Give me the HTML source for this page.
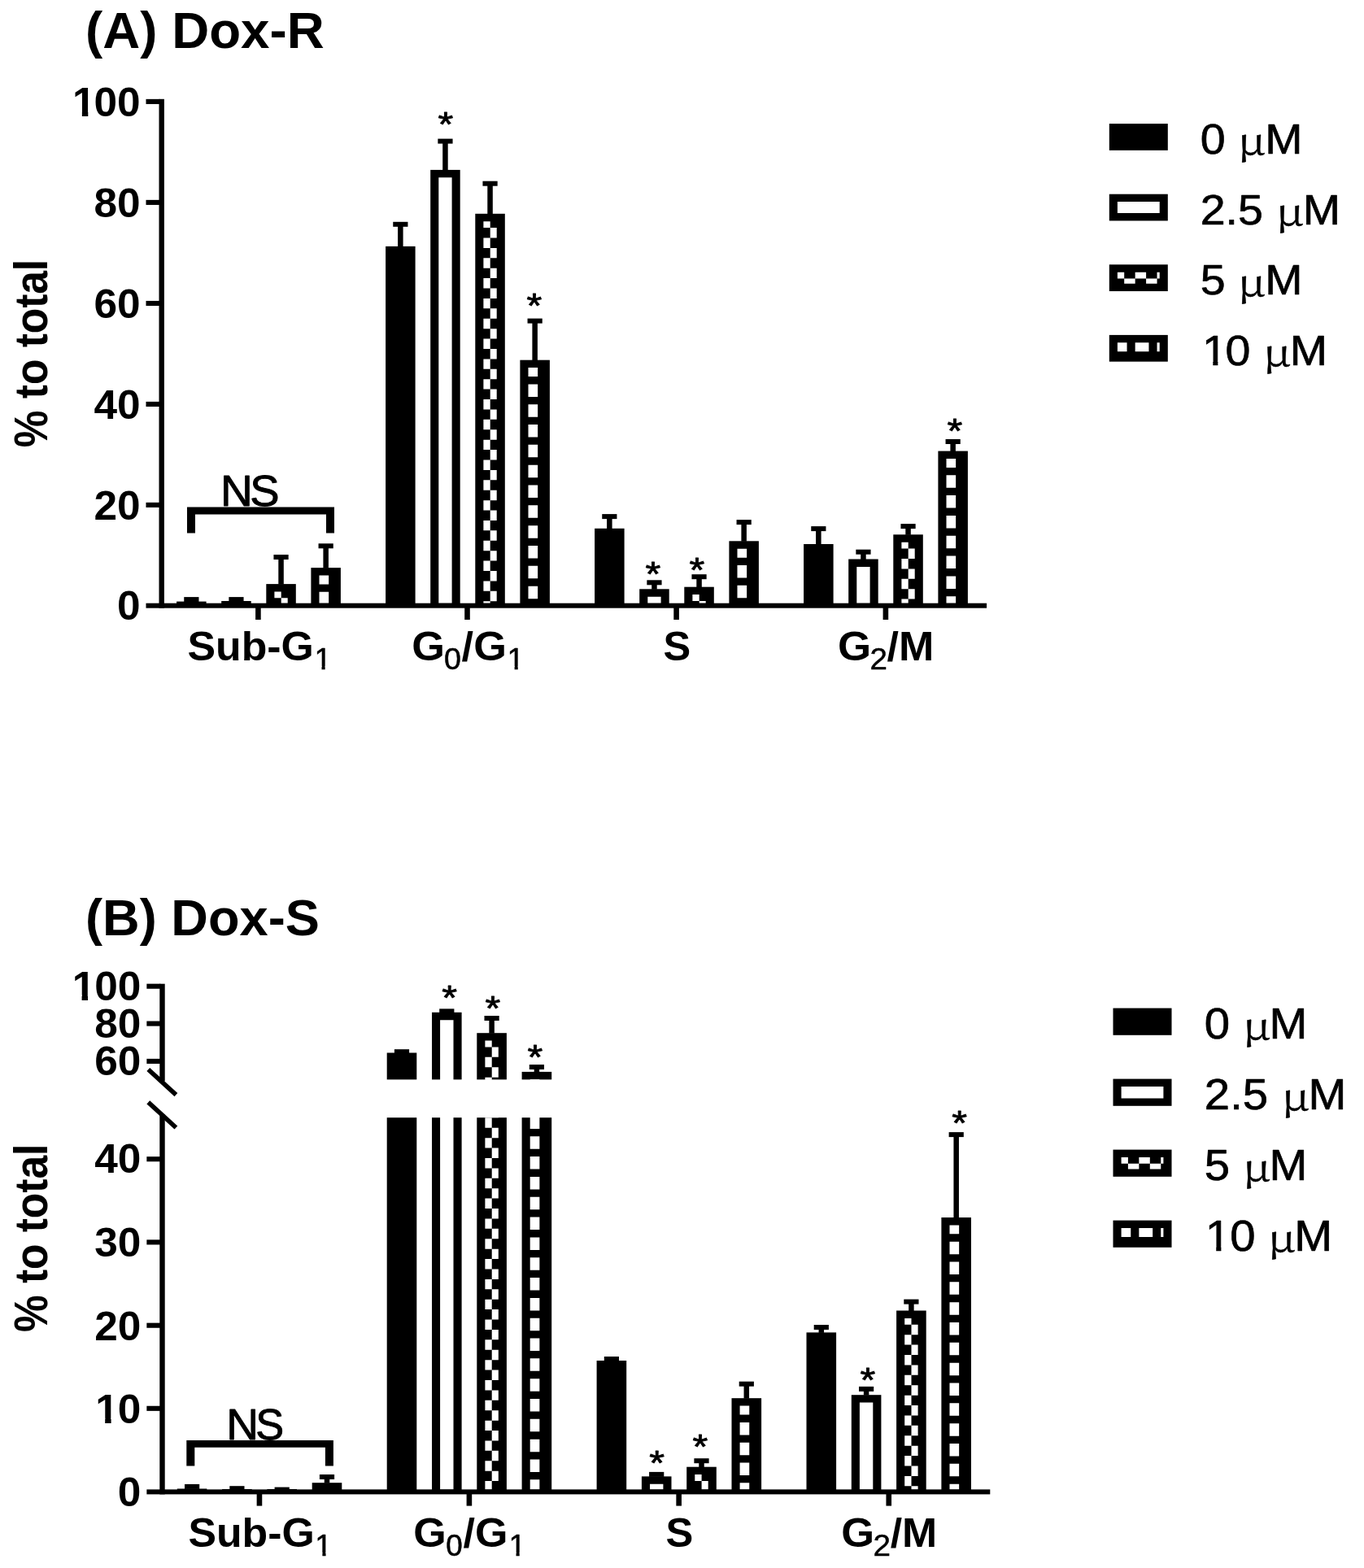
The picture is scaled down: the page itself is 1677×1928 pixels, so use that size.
<!DOCTYPE html>
<html lang="en"><head><meta charset="utf-8"><title>Cell cycle distribution: Dox-R and Dox-S</title>
<style>html,body{margin:0;padding:0;background:#fff}body{width:1677px;height:1928px;overflow:hidden}svg{display:block}text{font-family:"Liberation Sans",sans-serif;fill:#000;font-kerning:none;stroke-linejoin:round}.b{font-weight:700}.r{font-weight:400}.mu{font-family:"Noto Serif CJK SC","Liberation Serif",serif;font-weight:400}</style></head><body>
<svg width="1677" height="1928" viewBox="0 0 1677 1928">
<defs>
<clipPath id="one700"><path d="M-5 -90H70V-12.71H37.41V8H22.99V-12.71H-5Z"/></clipPath>
<clipPath id="one400"><path d="M-5 -90H70V-9.97H34.98V8H24.15V-9.97H-5Z"/></clipPath>
</defs>
<rect width="1677" height="1928" fill="#fff"/>
<g id="panel-A" fill="#000">
<g class="bars">
<rect x="217.1" y="739.6" width="36.5" height="5.1"/>
<rect x="226.25" y="734.1" width="18.2" height="6"/>
<rect x="272.2" y="739" width="36.5" height="5.7"/>
<rect x="281.35" y="734.1" width="18.2" height="6"/>
<rect x="327.3" y="718.1" width="36.5" height="26.6"/>
<rect x="336.45" y="682" width="18.2" height="6"/>
<rect x="342.3" y="687" width="6.5" height="31.6"/>
<rect x="382.4" y="698.1" width="36.5" height="46.6"/>
<rect x="391.55" y="668.3" width="18.2" height="6"/>
<rect x="397.4" y="673.3" width="6.5" height="25.3"/>
<rect x="474.1" y="302.9" width="36.5" height="441.8"/>
<rect x="483.25" y="272.8" width="18.2" height="6"/>
<rect x="489.1" y="277.8" width="6.5" height="25.6"/>
<rect x="529.2" y="208.9" width="36.5" height="535.8"/>
<rect x="538.35" y="170.6" width="18.2" height="6"/>
<rect x="544.2" y="175.6" width="6.5" height="33.8"/>
<rect x="584.3" y="262.8" width="36.5" height="481.9"/>
<rect x="593.45" y="222.7" width="18.2" height="6"/>
<rect x="599.3" y="227.7" width="6.5" height="35.6"/>
<rect x="639.4" y="442.7" width="36.5" height="302"/>
<rect x="648.55" y="391.6" width="18.2" height="6"/>
<rect x="654.4" y="396.6" width="6.5" height="46.6"/>
<rect x="731.1" y="649.8" width="36.5" height="94.9"/>
<rect x="740.25" y="632.1" width="18.2" height="6"/>
<rect x="746.1" y="637.1" width="6.5" height="13.2"/>
<rect x="786.2" y="724.3" width="36.5" height="20.4"/>
<rect x="795.35" y="713.3" width="18.2" height="6"/>
<rect x="801.2" y="718.3" width="6.5" height="6.5"/>
<rect x="841.3" y="721.7" width="36.5" height="23"/>
<rect x="850.45" y="706.2" width="18.2" height="6"/>
<rect x="856.3" y="711.2" width="6.5" height="11"/>
<rect x="896.4" y="665.3" width="36.5" height="79.4"/>
<rect x="905.55" y="639.1" width="18.2" height="6"/>
<rect x="911.4" y="644.1" width="6.5" height="21.7"/>
<rect x="988.1" y="669" width="36.5" height="75.7"/>
<rect x="997.25" y="647.1" width="18.2" height="6"/>
<rect x="1003.1" y="652.1" width="6.5" height="17.4"/>
<rect x="1043.2" y="687.5" width="36.5" height="57.2"/>
<rect x="1052.35" y="675.7" width="18.2" height="6"/>
<rect x="1058.2" y="680.7" width="6.5" height="7.3"/>
<rect x="1098.3" y="657.3" width="36.5" height="87.4"/>
<rect x="1107.45" y="644.1" width="18.2" height="6"/>
<rect x="1113.3" y="649.1" width="6.5" height="8.7"/>
<rect x="1153.4" y="554.6" width="36.5" height="190.1"/>
<rect x="1162.55" y="540" width="18.2" height="6"/>
<rect x="1168.4" y="545" width="6.5" height="10.1"/>
<path fill="#fff" d="M337.4 727.5H345.7V735.36H337.4ZM345.7 735.36H353.7V741.7H345.7ZM392.5 707.5H404.15V718.45H392.5ZM392.5 727.78H404.15V741.7H392.5ZM539.3 218.3H555.6V741.7H539.3ZM594.4 272.2H602.7V280.06H594.4ZM602.7 280.06H610.7V292.47H602.7ZM594.4 292.47H602.7V304.88H594.4ZM602.7 304.88H610.7V317.29H602.7ZM594.4 317.29H602.7V329.7H594.4ZM602.7 329.7H610.7V342.11H602.7ZM594.4 342.11H602.7V354.52H594.4ZM602.7 354.52H610.7V366.93H602.7ZM594.4 366.93H602.7V379.34H594.4ZM602.7 379.34H610.7V391.75H602.7ZM594.4 391.75H602.7V404.16H594.4ZM602.7 404.16H610.7V416.57H602.7ZM594.4 416.57H602.7V428.98H594.4ZM602.7 428.98H610.7V441.39H602.7ZM594.4 441.39H602.7V453.8H594.4ZM602.7 453.8H610.7V466.21H602.7ZM594.4 466.21H602.7V478.62H594.4ZM602.7 478.62H610.7V491.03H602.7ZM594.4 491.03H602.7V503.44H594.4ZM602.7 503.44H610.7V515.85H602.7ZM594.4 515.85H602.7V528.26H594.4ZM602.7 528.26H610.7V540.67H602.7ZM594.4 540.67H602.7V553.08H594.4ZM602.7 553.08H610.7V565.49H602.7ZM594.4 565.49H602.7V577.9H594.4ZM602.7 577.9H610.7V590.31H602.7ZM594.4 590.31H602.7V602.72H594.4ZM602.7 602.72H610.7V615.13H602.7ZM594.4 615.13H602.7V627.54H594.4ZM602.7 627.54H610.7V639.95H602.7ZM594.4 639.95H602.7V652.36H594.4ZM602.7 652.36H610.7V664.77H602.7ZM594.4 664.77H602.7V677.18H594.4ZM602.7 677.18H610.7V689.59H602.7ZM594.4 689.59H602.7V702H594.4ZM602.7 702H610.7V714.41H602.7ZM594.4 714.41H602.7V726.82H594.4ZM602.7 726.82H610.7V739.23H602.7ZM594.4 739.23H602.7V741.7H594.4ZM649.5 452.1H661.15V463.05H649.5ZM649.5 472.38H661.15V487.88H649.5ZM649.5 497.21H661.15V512.71H649.5ZM649.5 522.04H661.15V537.54H649.5ZM649.5 546.87H661.15V562.37H649.5ZM649.5 571.7H661.15V587.2H649.5ZM649.5 596.53H661.15V612.03H649.5ZM649.5 621.36H661.15V636.86H649.5ZM649.5 646.19H661.15V661.69H649.5ZM649.5 671.02H661.15V686.52H649.5ZM649.5 695.85H661.15V711.35H649.5ZM649.5 720.68H661.15V736.18H649.5ZM796.3 733.7H812.6V741.7H796.3ZM851.4 731.1H859.7V738.96H851.4ZM859.7 738.96H867.7V741.7H859.7ZM906.5 674.7H918.15V685.65H906.5ZM906.5 694.98H918.15V710.48H906.5ZM906.5 719.81H918.15V735.31H906.5ZM1053.3 696.9H1069.6V741.7H1053.3ZM1108.4 666.7H1116.7V674.56H1108.4ZM1116.7 674.56H1124.7V686.97H1116.7ZM1108.4 686.97H1116.7V699.38H1108.4ZM1116.7 699.38H1124.7V711.79H1116.7ZM1108.4 711.79H1116.7V724.2H1108.4ZM1116.7 724.2H1124.7V736.61H1116.7ZM1108.4 736.61H1116.7V741.7H1108.4ZM1163.5 564H1175.15V574.95H1163.5ZM1163.5 584.28H1175.15V599.78H1163.5ZM1163.5 609.11H1175.15V624.61H1163.5ZM1163.5 633.94H1175.15V649.44H1163.5ZM1163.5 658.77H1175.15V674.27H1163.5ZM1163.5 683.6H1175.15V699.1H1163.5ZM1163.5 708.43H1175.15V723.93H1163.5ZM1163.5 733.26H1175.15V741.7H1163.5Z"/>
</g>
<g class="axes">
<rect x="179.5" y="741.7" width="1033.6" height="6"/>
<rect x="195.5" y="121.8" width="6.4" height="625.9"/>
<rect x="179.5" y="121.85" width="17" height="6.1"/>
<rect x="179.5" y="245.85" width="17" height="6.1"/>
<rect x="179.5" y="369.95" width="17" height="6.1"/>
<rect x="179.5" y="493.9" width="17" height="6.1"/>
<rect x="179.5" y="617.85" width="17" height="6.1"/>
<rect x="314.1" y="746.7" width="6.6" height="15.3"/>
<rect x="571.2" y="746.7" width="6.6" height="15.3"/>
<rect x="828.3" y="746.7" width="6.6" height="15.3"/>
<rect x="1085.6" y="746.7" width="6.6" height="15.3"/>
</g>
<g class="ytick-labels">
<g class="tick"><g transform="translate(89.05 142.55) scale(0.5141 0.504)"><text class="b" font-size="100" clip-path="url(#one700)">1</text></g><text class="b" transform="translate(172.55 142.55) scale(1.02 1)" font-size="50.4" text-anchor="end">00</text></g>
<text class="b" transform="translate(172.55 266.55) scale(1.02 1)" font-size="50.4" text-anchor="end">80</text>
<text class="b" transform="translate(172.55 390.65) scale(1.02 1)" font-size="50.4" text-anchor="end">60</text>
<text class="b" transform="translate(172.55 514.6) scale(1.02 1)" font-size="50.4" text-anchor="end">40</text>
<text class="b" transform="translate(172.55 638.55) scale(1.02 1)" font-size="50.4" text-anchor="end">20</text>
<text class="b" transform="translate(172.55 762.35) scale(1.02 1)" font-size="50.4" text-anchor="end">0</text>
</g>
<g class="x-labels">
<g class="xlabel"><text class="b" transform="translate(230.51 811.95) scale(1.028 1)" font-size="50.4">Sub-G</text><g transform="translate(386.43 822.7) scale(0.377 0.366)"><text class="r" font-size="100" clip-path="url(#one400)" stroke="#000" stroke-width="1.37">1</text></g></g>
<g class="xlabel"><text class="b" transform="translate(506.22 811.95) scale(1.0388 1)" font-size="50.4">G</text><text class="r" transform="translate(546.09 822.7) scale(1.028 1)" font-size="36.6" stroke="#000" stroke-width="0.5">0</text><text class="b" transform="translate(567.59 811.95) scale(1.0386 1)" font-size="50.4">/G</text><g transform="translate(623.53 822.7) scale(0.377 0.366)"><text class="r" font-size="100" clip-path="url(#one400)" stroke="#000" stroke-width="1.37">1</text></g></g>
<g class="xlabel"><text class="b" transform="translate(815.54 811.95) scale(1.0018 1)" font-size="50.4">S</text></g>
<g class="xlabel"><text class="b" transform="translate(1029.93 811.95) scale(1.0497 1)" font-size="50.4">G</text><text class="r" transform="translate(1069.52 822.7) scale(1.0539 1)" font-size="36.6" stroke="#000" stroke-width="0.5">2</text><text class="b" transform="translate(1090.49 811.95) scale(1.0322 1)" font-size="50.4">/M</text></g>
</g>
<text class="b" transform="translate(105.03 58.85) scale(1.0225 1)" font-size="62.3">(A) Dox-R</text>
<text class="b" transform="translate(58 434.5) scale(1.08 1) rotate(-90) scale(0.974 1)" font-size="52.8" text-anchor="middle">% to total</text>
<path d="M230 655.4V623.6H411V655.4h-10V632.6H240V655.4Z"/>
<g class="ns"><text class="r" transform="translate(271.05 622) scale(1.0316 1)" font-size="53.4" stroke="#000" stroke-width="0.9">N</text><text class="r" transform="translate(307.18 622) scale(1.0208 1)" font-size="53.4" stroke="#000" stroke-width="0.9">S</text></g>
<g class="stars">
<text class="r" transform="translate(547.8 167.39) scale(1.1615 1)" font-size="41.6" text-anchor="middle" stroke="#000" stroke-width="0.8">*</text>
<text class="r" transform="translate(656.9 389.64) scale(1.1615 1)" font-size="41.6" text-anchor="middle" stroke="#000" stroke-width="0.8">*</text>
<text class="r" transform="translate(802.8 720.14) scale(1.1615 1)" font-size="41.6" text-anchor="middle" stroke="#000" stroke-width="0.8">*</text>
<text class="r" transform="translate(856.9 715.39) scale(1.1615 1)" font-size="41.6" text-anchor="middle" stroke="#000" stroke-width="0.8">*</text>
<text class="r" transform="translate(1173.9 544.49) scale(1.1615 1)" font-size="41.6" text-anchor="middle" stroke="#000" stroke-width="0.8">*</text>
</g>
<g class="legend">
<rect x="1363.8" y="152.1" width="72" height="32.75"/>
<rect x="1363.8" y="238.7" width="72" height="32.75"/>
<rect x="1363.8" y="325.3" width="72" height="32.75"/>
<rect x="1363.8" y="411.9" width="72" height="32.75"/>
<path fill="#fff" d="M1373.9 248.1H1425.7V262.05H1373.9ZM1373.9 334.7H1382.2V342.56H1373.9ZM1395.65 334.7H1409.1V342.56H1395.65ZM1422.55 334.7H1425.7V342.56H1422.55ZM1382.2 342.56H1395.65V348.65H1382.2ZM1409.1 342.56H1422.55V348.65H1409.1ZM1373.9 421.3H1385.55V432.25H1373.9ZM1395.65 421.3H1412.45V432.25H1395.65ZM1422.55 421.3H1425.7V432.25H1422.55Z"/>
<g class="legend-label"><text class="r" transform="translate(1475.67 189.1) scale(1.0535 1)" font-size="52.7" stroke="#000" stroke-width="0.7">0 </text><text class="mu" transform="translate(1521.7 190.3) scale(1.2 1)" font-size="45.5" stroke="#000" stroke-width="0.4">&#956;</text><text class="r" transform="translate(1555.13 189.1) scale(1.0535 1)" font-size="52.7" stroke="#000" stroke-width="0.7">M</text></g>
<g class="legend-label"><text class="r" transform="translate(1475.67 275.7) scale(1.0535 1)" font-size="52.7" stroke="#000" stroke-width="0.7">2.5 </text><text class="mu" transform="translate(1568.8 276.9) scale(1.2 1)" font-size="45.5" stroke="#000" stroke-width="0.4">&#956;</text><text class="r" transform="translate(1601.63 275.7) scale(1.0535 1)" font-size="52.7" stroke="#000" stroke-width="0.7">M</text></g>
<g class="legend-label"><text class="r" transform="translate(1475.67 362.3) scale(1.0535 1)" font-size="52.7" stroke="#000" stroke-width="0.7">5 </text><text class="mu" transform="translate(1521.7 363.5) scale(1.2 1)" font-size="45.5" stroke="#000" stroke-width="0.4">&#956;</text><text class="r" transform="translate(1555.13 362.3) scale(1.0535 1)" font-size="52.7" stroke="#000" stroke-width="0.7">M</text></g>
<g class="legend-label"><g transform="translate(1477.93 448.9) scale(0.5552 0.527)"><text class="r" font-size="100" clip-path="url(#one400)" stroke="#000" stroke-width="1.33">1</text></g><text class="r" transform="translate(1506.55 448.9) scale(1.0535 1)" font-size="52.7" stroke="#000" stroke-width="0.7">0 </text><text class="mu" transform="translate(1552.9 450.1) scale(1.2 1)" font-size="45.5" stroke="#000" stroke-width="0.4">&#956;</text><text class="r" transform="translate(1585.83 448.9) scale(1.0535 1)" font-size="52.7" stroke="#000" stroke-width="0.7">M</text></g>
</g>
</g>
<g id="panel-B" fill="#000">
<g class="bars">
<rect x="217.8" y="1830.5" width="36.6" height="3.9"/>
<rect x="227" y="1824.9" width="18.2" height="6"/>
<rect x="273.1" y="1831" width="36.6" height="3.4"/>
<rect x="282.3" y="1827.2" width="18.2" height="6"/>
<rect x="328.4" y="1831" width="36.6" height="3.4"/>
<rect x="337.6" y="1828.6" width="18.2" height="6"/>
<rect x="383.7" y="1823.2" width="36.6" height="11.2"/>
<rect x="392.9" y="1813" width="18.2" height="6"/>
<rect x="398.75" y="1818" width="6.5" height="5.7"/>
<rect x="475.7" y="1294.5" width="36.6" height="32.9"/>
<rect x="475.7" y="1374.2" width="36.6" height="460.2"/>
<rect x="484.9" y="1290.2" width="18.2" height="6"/>
<rect x="531" y="1244.8" width="36.6" height="82.6"/>
<rect x="531" y="1374.2" width="36.6" height="460.2"/>
<rect x="540.2" y="1240.4" width="18.2" height="6"/>
<rect x="586.3" y="1270.2" width="36.6" height="57.2"/>
<rect x="586.3" y="1374.2" width="36.6" height="460.2"/>
<rect x="595.5" y="1249" width="18.2" height="6"/>
<rect x="601.35" y="1254" width="6.5" height="16.7"/>
<rect x="641.6" y="1317.9" width="36.6" height="9.5"/>
<rect x="641.6" y="1374.2" width="36.6" height="460.2"/>
<rect x="650.8" y="1309" width="18.2" height="6"/>
<rect x="656.65" y="1314" width="6.5" height="4.4"/>
<rect x="733.6" y="1673" width="36.6" height="161.4"/>
<rect x="742.8" y="1668" width="18.2" height="6"/>
<rect x="788.9" y="1815.4" width="36.6" height="19"/>
<rect x="798.1" y="1809.9" width="18.2" height="6"/>
<rect x="844.2" y="1803.7" width="36.6" height="30.7"/>
<rect x="853.4" y="1793.2" width="18.2" height="6"/>
<rect x="859.25" y="1798.2" width="6.5" height="6"/>
<rect x="899.5" y="1719.2" width="36.6" height="115.2"/>
<rect x="908.7" y="1698.7" width="18.2" height="6"/>
<rect x="914.55" y="1703.7" width="6.5" height="16"/>
<rect x="991.5" y="1638.4" width="36.6" height="196"/>
<rect x="1000.7" y="1629" width="18.2" height="6"/>
<rect x="1006.55" y="1634" width="6.5" height="4.9"/>
<rect x="1046.8" y="1715.2" width="36.6" height="119.2"/>
<rect x="1056" y="1704.9" width="18.2" height="6"/>
<rect x="1061.85" y="1709.9" width="6.5" height="5.8"/>
<rect x="1102.1" y="1611.5" width="36.6" height="222.9"/>
<rect x="1111.3" y="1597.6" width="18.2" height="6"/>
<rect x="1117.15" y="1602.6" width="6.5" height="9.4"/>
<rect x="1157.4" y="1497" width="36.6" height="337.4"/>
<rect x="1166.6" y="1392.1" width="18.2" height="6"/>
<rect x="1172.45" y="1397.1" width="6.5" height="100.4"/>
<path fill="#fff" d="M541.1 1254.2H557.5V1328.4H541.1ZM541.1 1373.2H557.5V1831.4H541.1ZM596.4 1279.6H604.7V1287.46H596.4ZM604.7 1287.46H612.8V1299.87H604.7ZM596.4 1299.87H604.7V1312.28H596.4ZM604.7 1312.28H612.8V1324.69H604.7ZM596.4 1324.69H604.7V1328.4H596.4ZM604.7 1373.2H612.8V1374.33H604.7ZM596.4 1374.33H604.7V1386.74H596.4ZM604.7 1386.74H612.8V1399.15H604.7ZM596.4 1399.15H604.7V1411.56H596.4ZM604.7 1411.56H612.8V1423.97H604.7ZM596.4 1423.97H604.7V1436.38H596.4ZM604.7 1436.38H612.8V1448.79H604.7ZM596.4 1448.79H604.7V1461.2H596.4ZM604.7 1461.2H612.8V1473.61H604.7ZM596.4 1473.61H604.7V1486.02H596.4ZM604.7 1486.02H612.8V1498.43H604.7ZM596.4 1498.43H604.7V1510.84H596.4ZM604.7 1510.84H612.8V1523.25H604.7ZM596.4 1523.25H604.7V1535.66H596.4ZM604.7 1535.66H612.8V1548.07H604.7ZM596.4 1548.07H604.7V1560.48H596.4ZM604.7 1560.48H612.8V1572.89H604.7ZM596.4 1572.89H604.7V1585.3H596.4ZM604.7 1585.3H612.8V1597.71H604.7ZM596.4 1597.71H604.7V1610.12H596.4ZM604.7 1610.12H612.8V1622.53H604.7ZM596.4 1622.53H604.7V1634.94H596.4ZM604.7 1634.94H612.8V1647.35H604.7ZM596.4 1647.35H604.7V1659.76H596.4ZM604.7 1659.76H612.8V1672.17H604.7ZM596.4 1672.17H604.7V1684.58H596.4ZM604.7 1684.58H612.8V1696.99H604.7ZM596.4 1696.99H604.7V1709.4H596.4ZM604.7 1709.4H612.8V1721.81H604.7ZM596.4 1721.81H604.7V1734.22H596.4ZM604.7 1734.22H612.8V1746.63H604.7ZM596.4 1746.63H604.7V1759.04H596.4ZM604.7 1759.04H612.8V1771.45H604.7ZM596.4 1771.45H604.7V1783.86H596.4ZM604.7 1783.86H612.8V1796.27H604.7ZM596.4 1796.27H604.7V1808.68H596.4ZM604.7 1808.68H612.8V1821.09H604.7ZM596.4 1821.09H604.7V1831.4H596.4ZM651.7 1327.3H663.35V1328.4H651.7ZM651.7 1373.2H663.35V1387.91H651.7ZM651.7 1397.24H663.35V1412.74H651.7ZM651.7 1422.07H663.35V1437.57H651.7ZM651.7 1446.9H663.35V1462.4H651.7ZM651.7 1471.73H663.35V1487.23H651.7ZM651.7 1496.56H663.35V1512.06H651.7ZM651.7 1521.39H663.35V1536.89H651.7ZM651.7 1546.22H663.35V1561.72H651.7ZM651.7 1571.05H663.35V1586.55H651.7ZM651.7 1595.88H663.35V1611.38H651.7ZM651.7 1620.71H663.35V1636.21H651.7ZM651.7 1645.54H663.35V1661.04H651.7ZM651.7 1670.37H663.35V1685.87H651.7ZM651.7 1695.2H663.35V1710.7H651.7ZM651.7 1720.03H663.35V1735.53H651.7ZM651.7 1744.86H663.35V1760.36H651.7ZM651.7 1769.69H663.35V1785.19H651.7ZM651.7 1794.52H663.35V1810.02H651.7ZM651.7 1819.35H663.35V1831.4H651.7ZM799 1824.8H815.4V1831.4H799ZM854.3 1813.1H862.6V1820.96H854.3ZM862.6 1820.96H870.7V1831.4H862.6ZM909.6 1728.6H921.25V1739.55H909.6ZM909.6 1748.88H921.25V1764.38H909.6ZM909.6 1773.71H921.25V1789.21H909.6ZM909.6 1798.54H921.25V1814.04H909.6ZM909.6 1823.37H921.25V1831.4H909.6ZM1056.9 1724.6H1073.3V1831.4H1056.9ZM1112.2 1620.9H1120.5V1628.76H1112.2ZM1120.5 1628.76H1128.6V1641.17H1120.5ZM1112.2 1641.17H1120.5V1653.58H1112.2ZM1120.5 1653.58H1128.6V1665.99H1120.5ZM1112.2 1665.99H1120.5V1678.4H1112.2ZM1120.5 1678.4H1128.6V1690.81H1120.5ZM1112.2 1690.81H1120.5V1703.22H1112.2ZM1120.5 1703.22H1128.6V1715.63H1120.5ZM1112.2 1715.63H1120.5V1728.04H1112.2ZM1120.5 1728.04H1128.6V1740.45H1120.5ZM1112.2 1740.45H1120.5V1752.86H1112.2ZM1120.5 1752.86H1128.6V1765.27H1120.5ZM1112.2 1765.27H1120.5V1777.68H1112.2ZM1120.5 1777.68H1128.6V1790.09H1120.5ZM1112.2 1790.09H1120.5V1802.5H1112.2ZM1120.5 1802.5H1128.6V1814.91H1120.5ZM1112.2 1814.91H1120.5V1827.32H1112.2ZM1120.5 1827.32H1128.6V1831.4H1120.5ZM1167.5 1506.4H1179.15V1517.35H1167.5ZM1167.5 1526.68H1179.15V1542.18H1167.5ZM1167.5 1551.51H1179.15V1567.01H1167.5ZM1167.5 1576.34H1179.15V1591.84H1167.5ZM1167.5 1601.17H1179.15V1616.67H1167.5ZM1167.5 1626H1179.15V1641.5H1167.5ZM1167.5 1650.83H1179.15V1666.33H1167.5ZM1167.5 1675.66H1179.15V1691.16H1167.5ZM1167.5 1700.49H1179.15V1715.99H1167.5ZM1167.5 1725.32H1179.15V1740.82H1167.5ZM1167.5 1750.15H1179.15V1765.65H1167.5ZM1167.5 1774.98H1179.15V1790.48H1167.5ZM1167.5 1799.81H1179.15V1815.31H1167.5ZM1167.5 1824.64H1179.15V1831.4H1167.5Z"/>
</g>
<g class="axes">
<rect x="180.35" y="1831.4" width="1036.95" height="6"/>
<rect x="196.3" y="1209.7" width="6.4" height="119.8"/>
<rect x="196.3" y="1370.3" width="6.4" height="467.1"/>
<rect x="180.35" y="1209.65" width="16.95" height="6.1"/>
<rect x="180.35" y="1255.55" width="16.95" height="6.1"/>
<rect x="180.35" y="1301.85" width="16.95" height="6.1"/>
<rect x="180.35" y="1422.15" width="16.95" height="6.1"/>
<rect x="180.35" y="1524.35" width="16.95" height="6.1"/>
<rect x="180.35" y="1626.65" width="16.95" height="6.1"/>
<rect x="180.35" y="1728.75" width="16.95" height="6.1"/>
<rect x="315.65" y="1836.4" width="6.6" height="15.2"/>
<rect x="573.6" y="1836.4" width="6.6" height="15.2"/>
<rect x="831.35" y="1836.4" width="6.6" height="15.2"/>
<rect x="1089.45" y="1836.4" width="6.6" height="15.2"/>
<line x1="182.3" y1="1315.0" x2="216.4" y2="1346.1" stroke="#000" stroke-width="5.6"/>
<line x1="182.3" y1="1355.4" x2="216.4" y2="1386.5" stroke="#000" stroke-width="5.6"/>
</g>
<g class="ytick-labels">
<g class="tick"><g transform="translate(88.78 1229.75) scale(0.5141 0.504)"><text class="b" font-size="100" clip-path="url(#one700)">1</text></g><text class="b" transform="translate(173.45 1229.75) scale(1.02 1)" font-size="50.4" text-anchor="end">00</text></g>
<text class="b" transform="translate(173.45 1275.75) scale(1.02 1)" font-size="50.4" text-anchor="end">80</text>
<text class="b" transform="translate(173.45 1321.55) scale(1.02 1)" font-size="50.4" text-anchor="end">60</text>
<text class="b" transform="translate(173.45 1442.35) scale(1.02 1)" font-size="50.4" text-anchor="end">40</text>
<text class="b" transform="translate(173.45 1545.3) scale(1.02 1)" font-size="50.4" text-anchor="end">30</text>
<text class="b" transform="translate(173.45 1648.25) scale(1.02 1)" font-size="50.4" text-anchor="end">20</text>
<g class="tick"><g transform="translate(117.37 1750.05) scale(0.5141 0.504)"><text class="b" font-size="100" clip-path="url(#one700)">1</text></g><text class="b" transform="translate(173.45 1750.05) scale(1.02 1)" font-size="50.4" text-anchor="end">0</text></g>
<text class="b" transform="translate(173.45 1852.05) scale(1.02 1)" font-size="50.4" text-anchor="end">0</text>
</g>
<g class="x-labels">
<g class="xlabel"><text class="b" transform="translate(231.44 1901.95) scale(1.0278 1)" font-size="50.4">Sub-G</text><g transform="translate(387.33 1912.7) scale(0.377 0.366)"><text class="r" font-size="100" clip-path="url(#one400)" stroke="#000" stroke-width="1.37">1</text></g></g>
<g class="xlabel"><text class="b" transform="translate(508.17 1901.95) scale(1.032 1)" font-size="50.4">G</text><text class="r" transform="translate(548.21 1912.7) scale(1.0058 1)" font-size="36.6" stroke="#000" stroke-width="0.5">0</text><text class="b" transform="translate(569.59 1901.95) scale(1.0325 1)" font-size="50.4">/G</text><g transform="translate(625.48 1912.7) scale(0.377 0.366)"><text class="r" font-size="100" clip-path="url(#one400)" stroke="#000" stroke-width="1.37">1</text></g></g>
<g class="xlabel"><text class="b" transform="translate(818.59 1901.95) scale(1.0051 1)" font-size="50.4">S</text></g>
<g class="xlabel"><text class="b" transform="translate(1034.15 1901.95) scale(1.0423 1)" font-size="50.4">G</text><text class="r" transform="translate(1073.47 1912.7) scale(1.0568 1)" font-size="36.6" stroke="#000" stroke-width="0.5">2</text><text class="b" transform="translate(1094.69 1901.95) scale(1.0283 1)" font-size="50.4">/M</text></g>
</g>
<text class="b" transform="translate(105.05 1149.75) scale(1.0142 1)" font-size="62.3">(B) Dox-S</text>
<text class="b" transform="translate(58 1522.4) scale(1.08 1) rotate(-90) scale(0.974 1)" font-size="52.8" text-anchor="middle">% to total</text>
<path d="M229.3 1802.5V1771H409.9V1802.5h-10V1779.85H239.3V1802.5Z"/>
<g class="ns"><text class="r" transform="translate(278.15 1769.9) scale(1.0316 1)" font-size="53.4" stroke="#000" stroke-width="0.9">N</text><text class="r" transform="translate(314.37 1769.9) scale(0.9797 1)" font-size="53.4" stroke="#000" stroke-width="0.9">S</text></g>
<g class="stars">
<text class="r" transform="translate(552.7 1241.44) scale(1.1615 1)" font-size="41.6" text-anchor="middle" stroke="#000" stroke-width="0.8">*</text>
<text class="r" transform="translate(605.8 1254.34) scale(1.1615 1)" font-size="41.6" text-anchor="middle" stroke="#000" stroke-width="0.8">*</text>
<text class="r" transform="translate(657.9 1314.49) scale(1.1615 1)" font-size="41.6" text-anchor="middle" stroke="#000" stroke-width="0.8">*</text>
<text class="r" transform="translate(807.7 1813.39) scale(1.1615 1)" font-size="41.6" text-anchor="middle" stroke="#000" stroke-width="0.8">*</text>
<text class="r" transform="translate(860.8 1793.34) scale(1.1615 1)" font-size="41.6" text-anchor="middle" stroke="#000" stroke-width="0.8">*</text>
<text class="r" transform="translate(1066.9 1710.69) scale(1.1615 1)" font-size="41.6" text-anchor="middle" stroke="#000" stroke-width="0.8">*</text>
<text class="r" transform="translate(1179.7 1394.59) scale(1.1615 1)" font-size="41.6" text-anchor="middle" stroke="#000" stroke-width="0.8">*</text>
</g>
<g class="legend">
<rect x="1368.5" y="1239.6" width="72" height="33.2"/>
<rect x="1368.5" y="1326.6" width="72" height="33.2"/>
<rect x="1368.5" y="1413.6" width="72" height="33.2"/>
<rect x="1368.5" y="1500.6" width="72" height="33.2"/>
<path fill="#fff" d="M1378.6 1336H1430.4V1350.4H1378.6ZM1378.6 1423H1386.9V1430.86H1378.6ZM1400.35 1423H1413.8V1430.86H1400.35ZM1427.25 1423H1430.4V1430.86H1427.25ZM1386.9 1430.86H1400.35V1437.4H1386.9ZM1413.8 1430.86H1427.25V1437.4H1413.8ZM1378.6 1510H1390.25V1520.95H1378.6ZM1400.35 1510H1417.15V1520.95H1400.35ZM1427.25 1510H1430.4V1520.95H1427.25Z"/>
<g class="legend-label"><text class="r" transform="translate(1480.87 1277.1) scale(1.0635 1)" font-size="52.9" stroke="#000" stroke-width="0.7">0 </text><text class="mu" transform="translate(1527.9 1278.3) scale(1.2 1)" font-size="45.5" stroke="#000" stroke-width="0.4">&#956;</text><text class="r" transform="translate(1560.53 1277.1) scale(1.0635 1)" font-size="52.9" stroke="#000" stroke-width="0.7">M</text></g>
<g class="legend-label"><text class="r" transform="translate(1480.87 1364.1) scale(1.0635 1)" font-size="52.9" stroke="#000" stroke-width="0.7">2.5 </text><text class="mu" transform="translate(1575.7 1365.3) scale(1.2 1)" font-size="45.5" stroke="#000" stroke-width="0.4">&#956;</text><text class="r" transform="translate(1608.53 1364.1) scale(1.0635 1)" font-size="52.9" stroke="#000" stroke-width="0.7">M</text></g>
<g class="legend-label"><text class="r" transform="translate(1480.87 1451.1) scale(1.0635 1)" font-size="52.9" stroke="#000" stroke-width="0.7">5 </text><text class="mu" transform="translate(1527.9 1452.3) scale(1.2 1)" font-size="45.5" stroke="#000" stroke-width="0.4">&#956;</text><text class="r" transform="translate(1560.53 1451.1) scale(1.0635 1)" font-size="52.9" stroke="#000" stroke-width="0.7">M</text></g>
<g class="legend-label"><g transform="translate(1481.68 1538.1) scale(0.5626 0.529)"><text class="r" font-size="100" clip-path="url(#one400)" stroke="#000" stroke-width="1.32">1</text></g><text class="r" transform="translate(1512.16 1538.1) scale(1.0635 1)" font-size="52.9" stroke="#000" stroke-width="0.7">0 </text><text class="mu" transform="translate(1558.7 1539.3) scale(1.2 1)" font-size="45.5" stroke="#000" stroke-width="0.4">&#956;</text><text class="r" transform="translate(1591.13 1538.1) scale(1.0635 1)" font-size="52.9" stroke="#000" stroke-width="0.7">M</text></g>
</g>
</g>
</svg></body></html>
